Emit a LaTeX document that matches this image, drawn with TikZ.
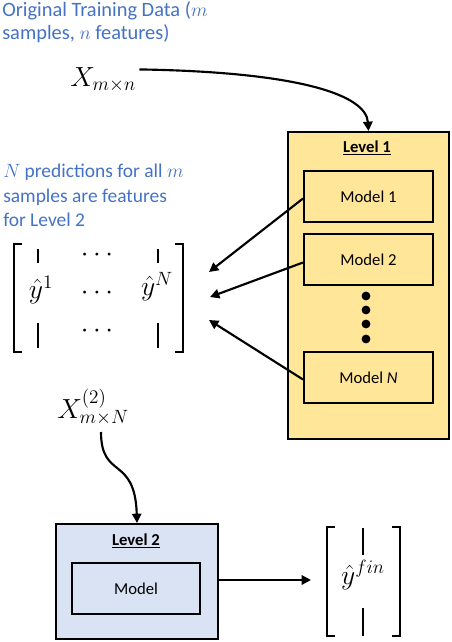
\documentclass[tikz,border=0pt]{standalone}
\usepackage[no-math]{fontspec}
\setmainfont{Carlito}
\usetikzlibrary{arrows.meta}
\definecolor{blueText}{HTML}{4472C4}
\definecolor{yellowFill}{HTML}{FFE699}
\definecolor{blueFill}{HTML}{DAE3F3}
\tikzset{
  outerbox/.style={draw=black, line width=1.5pt, inner sep=0pt},
  modelbox/.style={draw=black, line width=1.5pt, fill=yellowFill, minimum width=129*0.75pt, minimum height=51*0.75pt, inner sep=0pt, font=\fontsize{12.5}{15}\selectfont},
  conn/.style={line width=1.6pt, -{Triangle[length=7pt,width=7pt]}},
  bluetxt/.style={text=blueText, align=left, anchor=north west, inner sep=0pt},
  mathbig/.style={font=\fontsize{22}{26}\selectfont, inner sep=0pt},
  lvltitle/.style={font=\fontsize{12.5}{15}\selectfont\bfseries, inner sep=0pt},
  brk/.style={line width=1.3pt},
  bar/.style={line width=0.9pt},
  dot/.style={fill=black}
}
\begin{document}
\begin{tikzpicture}[x=0.75pt,y=-0.75pt]
\useasboundingbox (0,0) rectangle (452,642);
% top text
\node[bluetxt, font=\fontsize{15.3}{17.5}\selectfont] (t1) at (2,1) {Original Training Data ($m$\\samples, $n$ features)};
\node[mathbig, anchor=base west] (xmn) at (70,86) {$X_{m\times n}$};
% Level 1 box
\node[outerbox, fill=yellowFill, minimum width=161*0.75pt, minimum height=307*0.75pt, anchor=north west] (lvl1) at (287,131) {};
\node[lvltitle] (l1t) at (367,148) {\underline{Level 1}};
\node[modelbox, anchor=north west] (m1) at (303,170) {Model 1};
\node[modelbox, anchor=north west] (m2) at (303,233) {Model 2};
\node[modelbox, anchor=north west] (mN) at (303,351) {Model \textit{N}};
\foreach \yy/\nm in {296/d1,310/d2,324/d3,339/d4}{
  \fill[dot] (366,\yy) circle (3.3pt);
}
% curved arrow X -> Level 1
\draw[conn] (xmn.east) ++(3,-10) coordinate (xs) .. controls (300,72) and (366,95) .. (lvl1.north);
% blue middle text
\node[bluetxt, font=\fontsize{14.6}{18.3}\selectfont] (t2) at (3,164) {$N$ predictions for all $m$\\samples are features\\for Level 2};
% first matrix
\node[minimum width=170*0.75pt, minimum height=108*0.75pt, inner sep=0pt, anchor=north west] (mat) at (14,244) {};
\draw[brk] (22,244) -- (14,244) -- (14,352) -- (22,352);
\draw[brk] (175,244) -- (183,244) -- (183,352) -- (175,352);
\draw[bar] (38,249) -- (38,263);
\draw[bar] (38,323) -- (38,348);
\draw[bar] (158,249) -- (158,263);
\draw[bar] (158,323) -- (158,348);
\node[mathbig] (yh1) at (41,290) {$\hat{y}^{1}$};
\node[mathbig] (yhN) at (157,287) {$\hat{y}^{N}$};
\node[mathbig] (c1) at (97,255) {$\cdots$};
\node[mathbig] (c2) at (97,293) {$\cdots$};
\node[mathbig] (c3) at (97,331) {$\cdots$};
% arrows from models
\coordinate (a1) at (209,272);
\coordinate (a2) at (210,297);
\coordinate (a3) at (209,320);
\draw[conn] ([yshift=-2*0.75pt]m1.west) -- (a1);
\draw[conn] ([yshift=-3*0.75pt]m2.west) -- (a2);
\draw[conn] ([yshift=-2*0.75pt]mN.west) -- (a3);
% X^(2)
\node[mathbig, anchor=base west] (x2) at (57,418) {$X^{(2)}_{m\times N}$};
% Level 2
\node[outerbox, fill=blueFill, minimum width=162*0.75pt, minimum height=115*0.75pt, anchor=north west] (lvl2) at (55,523) {};
\node[lvltitle] (l2t) at (136,541) {\underline{Level 2}};
\node[modelbox, fill=blueFill, minimum width=128*0.75pt, anchor=north west] (m) at (71,562) {Model};
\draw[conn] (101,432) .. controls (101,480) and (135,455) .. (lvl2.north);
% final matrix
\coordinate (fe) at (311,580);
\draw[conn] (lvl2.east |- fe) -- (fe);
\node[minimum width=72*0.75pt, minimum height=110*0.75pt, inner sep=0pt, anchor=north west] (fmat) at (327,527) {};
\draw[brk] (335,527) -- (327,527) -- (327,636) -- (335,636);
\draw[brk] (392,527) -- (400,527) -- (400,636) -- (392,636);
\draw[bar] (363,528) -- (363,555);
\draw[bar] (363,608) -- (363,636);
\node[mathbig] (yf) at (363,575) {$\hat{y}^{fin}$};
\end{tikzpicture}
\end{document}
